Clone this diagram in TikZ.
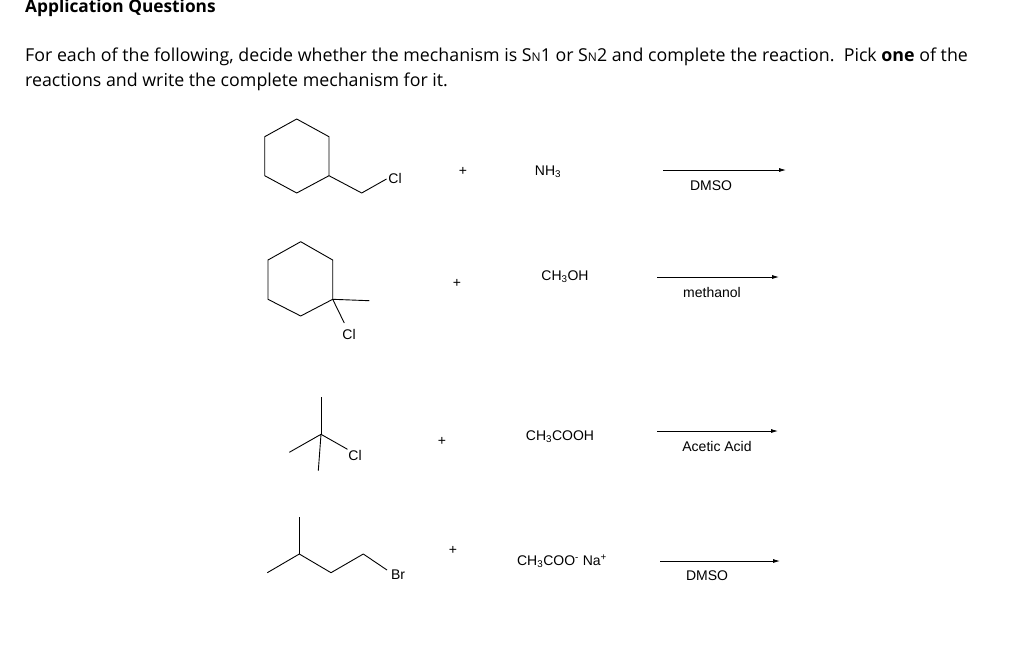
\documentclass[tikz,border=0pt]{standalone}
\usepackage{fontspec}
\setmainfont{Open Sans}
\newfontfamily\helv{Liberation Sans}
\usetikzlibrary{arrows.meta}
\begin{document}
\begin{tikzpicture}[x=1pt,y=-1pt,
  bond/.style={line width=0.9pt,line join=round},
  chem/.style={font=\helv\fontsize{14}{16}\selectfont,inner sep=0pt},
  rxn/.style={line width=0.8pt,-{Latex[length=7pt,width=4pt]}},
  body/.style={font=\fontsize{17.8}{21}\selectfont,anchor=base west,inner sep=0pt}]
\useasboundingbox (0,0) rectangle (1024,648);
\node[body,font=\bfseries\fontsize{17.3}{21}\selectfont] (title) at (25,12) {Application Questions};
\node[body] (p1) at (25,61) {For each of the following, decide whether the mechanism is S{\fontsize{12}{13}\selectfont N}1 or S{\fontsize{12}{13}\selectfont N}2 and complete the reaction.\ \ Pick \textbf{one} of the};
\node[body] (p2) at (25,86) {reactions and write the complete mechanism for it.};
% molecule 1
\draw[bond] (296.7,119) -- (329,136.7) -- (329,175.7) -- (296.7,193) -- (264.7,175.7) -- (264.7,136.7) -- cycle;
\draw[bond] (329,175.7) -- (361.7,193) -- (386.5,179);
\node[chem] (cl1) at (395,178) {Cl};
% molecule 2
\draw[bond] (300.7,241.7) -- (332.7,260) -- (332.7,299.3) -- (300.7,316) -- (268,299.3) -- (268,260) -- cycle;
\draw[bond] (332.7,299.3) -- (369.3,300.7);
\draw[bond] (332.7,299.3) -- (344.3,323);
\node[chem] (cl2) at (349,334) {Cl};
% molecule 3
\draw[bond] (321,434.3) -- (321,397.3);
\draw[bond] (321,434.3) -- (289.3,452.3);
\draw[bond] (321,434.3) -- (318.3,470.7);
\draw[bond] (321,434.3) -- (347.5,449.3);
\node[chem] (cl3) at (355,455) {Cl};
% molecule 4
\draw[bond] (267.3,572.7) -- (299.3,554) -- (331,572.7) -- (363.3,554) -- (387,570);
\draw[bond] (299.3,554) -- (299.3,516.7);
\node[chem] (br) at (398,575) {Br};
% pluses
\node[chem] (pl1) at (463,171) {+};
\node[chem] (pl2) at (457,283) {+};
\node[chem] (pl3) at (442,441) {+};
\node[chem] (pl4) at (453,550) {+};
% reagents
\node[chem] (r1) at (548,172) {NH\textsubscript{3}};
\node[chem] (r2) at (565,277) {CH\textsubscript{3}OH};
\node[chem] (r3) at (560,437) {CH\textsubscript{3}COOH};
\node[chem] (r4) at (562,561) {CH\textsubscript{3}COO\textsuperscript{-} Na\textsuperscript{+}};
% arrows
\coordinate (a1s) at (663,170); \coordinate (a1e) at (786,170);
\coordinate (a2s) at (657,277); \coordinate (a2e) at (779,277);
\coordinate (a3s) at (657,431); \coordinate (a3e) at (778,431);
\coordinate (a4s) at (660,561); \coordinate (a4e) at (780,561);
\draw[rxn] (a1s) -- (a1e);
\draw[rxn] (a2s) -- (a2e);
\draw[rxn] (a3s) -- (a3e);
\draw[rxn] (a4s) -- (a4e);
\node[chem] (s1) at (711,186) {DMSO};
\node[chem] (s2) at (712,292) {methanol};
\node[chem] (s3) at (717,446) {Acetic Acid};
\node[chem] (s4) at (707,576) {DMSO};
\end{tikzpicture}
\end{document}
